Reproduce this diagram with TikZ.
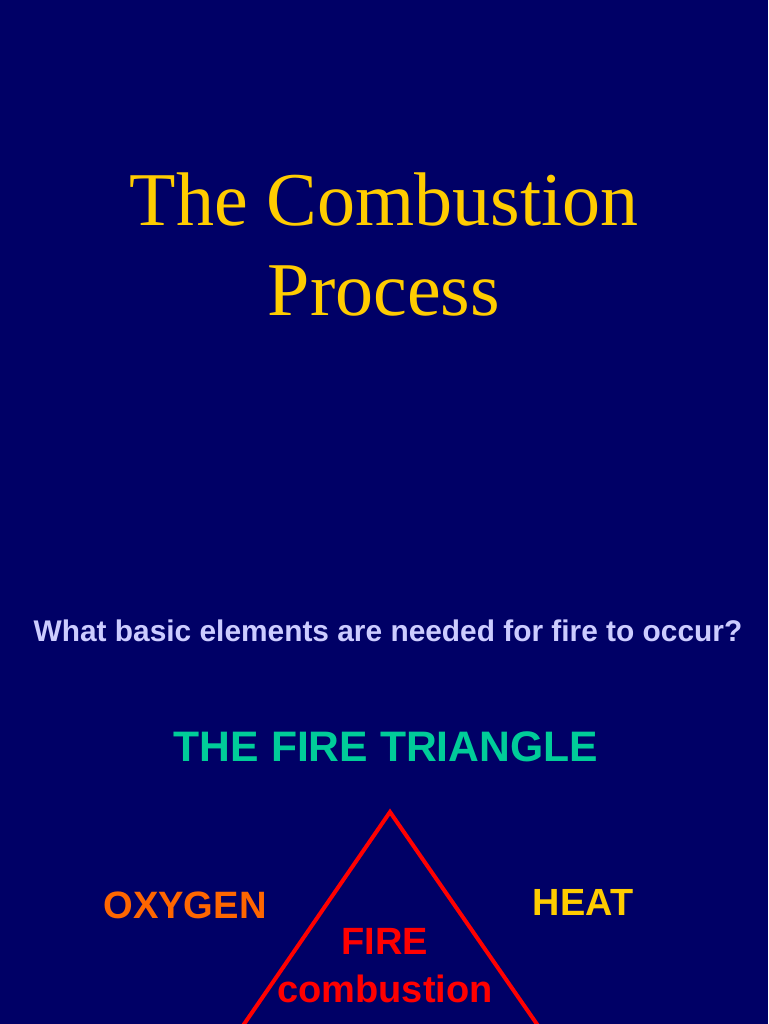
\documentclass[tikz,border=0pt]{standalone}
\usepackage{fontspec}
\setmainfont{Liberation Serif}
\setsansfont{Liberation Sans}
\definecolor{navy}{HTML}{000066}
\definecolor{gold}{HTML}{FFCC00}
\definecolor{lilac}{HTML}{CCCCFF}
\definecolor{teal}{HTML}{00CC99}
\definecolor{orng}{HTML}{FF6600}
\begin{document}
\begin{tikzpicture}[x=0.75pt,y=0.75pt,yscale=-1,xscale=1]
\tikzset{label/.style={font=\sffamily\bfseries, inner sep=0pt}}
%Background
\fill [navy] (0,0) rectangle (768,1024);
\useasboundingbox (0,0) rectangle (768,1024);

%Triangle
\coordinate (apex) at (390,812);
\draw [red, line width=3pt, line join=miter] (240,1030) -- (apex) -- (541,1030);

% Text Node
\node (title) [gold, align=center, font=\fontsize{57}{67.5}\selectfont] at (384,245) {The Combustion\\Process};
% Text Node
\node (question) [label, lilac, font=\sffamily\bfseries\fontsize{22.4}{26}\selectfont] at (388,631) {What basic elements are needed for fire to occur?};
% Text Node
\node (heading) [label, teal, font=\sffamily\bfseries\fontsize{32}{36}\selectfont] at (386,747) {THE FIRE TRIANGLE};
% Text Node
\node (oxygen) [label, orng, font=\sffamily\bfseries\fontsize{28.6}{32}\selectfont] at (185,905) {OXYGEN};
% Text Node
\node (heat) [label, gold, font=\sffamily\bfseries\fontsize{28.4}{32}\selectfont] at (583,902) {HEAT};
% Text Node
\node (fire) [label, red, align=center, font=\sffamily\bfseries\fontsize{28.5}{36}\selectfont] at (385,966) {FIRE\\combustion};
\end{tikzpicture}
\end{document}
